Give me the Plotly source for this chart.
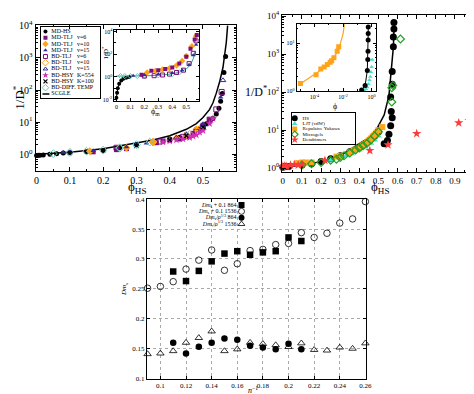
import plotly.graph_objects as go

W, H = 474, 394
FONT = "Liberation Serif"

def dx(a, b):
    return [a / W, b / W]

def dy(top, bot):
    return [1 - bot / H, 1 - top / H]

# ---------------- DATA: top-left main (1/D* vs phi_HS) ----------------
MD_HS_x = [0.0, 0.005, 0.01, 0.02, 0.04, 0.06, 0.08, 0.1, 0.15, 0.2, 0.25, 0.3, 0.35, 0.4, 0.43, 0.45,
           0.48, 0.5, 0.51, 0.52, 0.53, 0.54, 0.548, 0.553, 0.558, 0.563, 0.568]
MD_HS_y = [0.92, 0.93, 0.93, 0.95, 1.0, 1.05, 1.1, 1.15, 1.2, 1.32, 1.6, 2.0, 2.4, 3.0, 3.4, 4.2,
           6.0, 7.5, 9.0, 11.0, 13.0, 18.0, 27.0, 45.0, 78.0, 350.0, 1100.0]
MD_TLJ6_x = [0.17, 0.24, 0.27, 0.36, 0.38, 0.4, 0.43, 0.45, 0.47, 0.49, 0.5, 0.52]
MD_TLJ6_y = [1.2, 1.4, 1.5, 2.3, 2.6, 2.8, 3.0, 3.5, 4.5, 6.0, 8.0, 12.0]
MD_TLJ10_x = [0.16, 0.27, 0.35, 0.42, 0.45, 0.48]
MD_TLJ10_y = [1.25, 1.6, 2.4, 3.2, 4.0, 6.0]
MD_TLJ15_x = [0.08, 0.17, 0.27, 0.33, 0.4, 0.45, 0.5, 0.553]
MD_TLJ15_y = [1.15, 1.3, 1.7, 2.2, 3.0, 4.2, 9.0, 60.0]
BD_TLJ6_x = [0.24, 0.37, 0.44, 0.48, 0.5, 0.52, 0.54, 0.556]
BD_TLJ6_y = [1.6, 2.5, 3.5, 5.0, 7.0, 12.0, 25.0, 87.0]
BD_TLJ10_x = [0.25, 0.35, 0.46, 0.49]
BD_TLJ10_y = [1.55, 2.4, 4.2, 6.0]
BD_TLJ15_x = [0.1, 0.3, 0.42, 0.5, 0.56]
BD_TLJ15_y = [1.15, 2.0, 3.3, 8.0, 200.0]
BD_HSY554_x = [0.38, 0.4, 0.42, 0.44, 0.46, 0.47, 0.48, 0.49, 0.5, 0.52, 0.53]
BD_HSY554_y = [2.4, 2.6, 2.8, 3.0, 3.3, 3.7, 4.0, 4.8, 5.5, 9.0, 13.0]
BD_HSY100_x = [0.1, 0.2, 0.3, 0.4, 0.45, 0.5]
BD_HSY100_y = [1.1, 1.3, 1.8, 2.8, 3.8, 7.0]
BD_DIFF_x = [0.05, 0.1, 0.15, 0.2, 0.25, 0.3, 0.34]
BD_DIFF_y = [1.05, 1.15, 1.25, 1.35, 1.6, 2.0, 2.4]
SCGLE_x = [0.0, 0.1, 0.2, 0.3, 0.35, 0.4, 0.45, 0.48, 0.5, 0.52, 0.53, 0.54, 0.55, 0.56, 0.565, 0.57, 0.574]
SCGLE_y = [1.0, 1.17, 1.5, 2.2, 2.8, 3.8, 6.0, 9.0, 14.0, 25.0, 40.0, 80.0, 180.0, 500.0, 1100.0, 3000.0, 10000.0]

# ---------------- DATA: top-left inset (1/D* vs phi_m) ----------------
IN1_black_x = [0.0, 0.005, 0.01, 0.02, 0.035, 0.05, 0.07, 0.09]
IN1_black_y = [0.015, 0.04, 0.1, 0.25, 0.5, 0.7, 0.85, 1.0]
IN1_purple_x = [0.18, 0.25, 0.3, 0.35, 0.4, 0.45, 0.5, 0.53, 0.56, 0.575]
IN1_purple_y = [1.6, 3.5, 4.0, 5.0, 7.0, 15.0, 60.0, 300.0, 2000.0, 5000.0]
IN1_orange_x = [0.22, 0.28, 0.33, 0.38, 0.43, 0.47, 0.5, 0.54, 0.57]
IN1_orange_y = [2.5, 3.5, 4.5, 6.0, 10.0, 25.0, 70.0, 500.0, 4000.0]
IN1_popen_x = [0.2, 0.27, 0.33, 0.38, 0.43, 0.48, 0.52, 0.55, 0.57]
IN1_popen_y = [1.2, 1.3, 1.5, 1.8, 2.5, 4.0, 15.0, 120.0, 1500.0]
IN1_cyan_x = [0.03, 0.06, 0.1, 0.15, 0.2, 0.3, 0.4, 0.45]
IN1_cyan_y = [1.2, 1.2, 1.2, 1.2, 1.25, 1.4, 1.8, 2.5]
IN1_blue_x = [0.12, 0.2, 0.3, 0.4, 0.47, 0.52, 0.55, 0.57]
IN1_blue_y = [1.3, 1.5, 1.7, 2.2, 4.0, 12.0, 80.0, 700.0]
IN1_line_x = [0.0, 0.1, 0.2, 0.3, 0.4, 0.45, 0.5, 0.53, 0.55, 0.565]
IN1_line_y = [1.2, 1.2, 1.25, 1.4, 1.9, 2.6, 5.0, 12.0, 40.0, 200.0]

# ---------------- DATA: top-right main ----------------
HS_x = [0.0, 0.01, 0.03, 0.1, 0.15, 0.2, 0.25, 0.3, 0.35, 0.4, 0.45, 0.48, 0.5, 0.53, 0.547, 0.555,
        0.564, 0.572, 0.567, 0.564, 0.572, 0.572, 0.578, 0.578, 0.581, 0.581]
HS_y = [1.05, 1.1, 1.1, 1.2, 1.3, 1.5, 1.75, 2.1, 2.7, 3.6, 5.2, 7.0, 9.0, 4.4, 5.3, 7.8,
        13.0, 21.0, 31.0, 74.0, 160.0, 350.0, 1550.0, 2800.0, 4600.0, 6800.0]
LJT_x = [0.25, 0.3, 0.33, 0.36, 0.4, 0.43, 0.46, 0.48, 0.5]
LJT_y = [1.6, 1.9, 2.1, 2.4, 3.0, 3.6, 4.5, 5.5, 7.0]
RY_x = [0.08, 0.1, 0.12, 0.15, 0.28, 0.3, 0.35, 0.37, 0.38, 0.4, 0.41, 0.42, 0.43, 0.44, 0.45,
        0.46, 0.47, 0.48, 0.49, 0.5, 0.52]
RY_y = [1.35, 1.4, 1.4, 1.4, 2.0, 2.1, 2.6, 2.9, 3.1, 3.4, 3.7, 4.0, 4.4, 4.8, 5.3,
        6.0, 6.8, 7.5, 8.5, 10.0, 12.0]
MG_x = [0.1, 0.15, 0.2, 0.25, 0.28, 0.3, 0.32, 0.35, 0.38, 0.4, 0.42, 0.44, 0.46, 0.48, 0.5,
        0.57, 0.57, 0.575, 0.615]
MG_y = [1.2, 1.3, 1.4, 1.6, 1.7, 1.9, 2.1, 2.5, 3.0, 3.4, 3.9, 4.5, 5.5, 7.0, 9.0,
        55.0, 130.0, 150.0, 2500.0]
DEN_x = [0.0, 0.01, 0.02, 0.04, 0.06, 0.08, 0.1, 0.22, 0.455, 0.55, 0.7, 0.92, 0.974]
DEN_y = [1.1, 1.15, 1.1, 1.2, 1.25, 1.2, 1.25, 1.6, 2.9, 4.1, 8.1, 15.5, 18.0]
TR_curve_x = [0.0, 0.1, 0.2, 0.305, 0.4, 0.452, 0.495, 0.53, 0.555, 0.567, 0.578, 0.583]
TR_curve_y = [1.0, 1.2, 1.48, 2.2, 4.4, 6.4, 11.6, 25.0, 82.0, 320.0, 1530.0, 7400.0]

# ---------------- DATA: top-right inset (log-log) ----------------
IN2_orange_x = [1.05e-5, 1.3e-4, 2.8e-4, 4.8e-4, 8e-4, 1.26e-3, 1.6e-3, 2.3e-3, 3.9e-3, 5e-3]
IN2_orange_y = [1.43, 2.2, 2.9, 3.2, 3.6, 4.0, 4.3, 5.0, 6.8, 8.5]
IN2_oline_x = [1e-5, 3.2e-5, 1e-4, 3.2e-4, 1e-3, 3.2e-3, 6.3e-3, 1e-2, 1.26e-2]
IN2_oline_y = [1.41, 1.78, 2.14, 2.82, 3.8, 5.9, 9.5, 15.8, 25.0]
IN2_black_x = [0.2, 0.35, 0.5, 0.54, 0.56, 0.57, 0.575, 0.58]
IN2_black_y = [1.05, 1.3, 2.7, 4.6, 6.8, 11.7, 16.0, 22.0]
IN2_cyan_x = [0.3, 0.4, 0.5, 0.6, 0.7, 0.8, 0.9, 1.0, 1.1]
IN2_cyan_y = [1.05, 1.1, 1.2, 1.4, 1.7, 2.0, 2.5, 3.2, 4.5]

# ---------------- DATA: bottom panel ----------------
B_sq_x = [0.11, 0.12, 0.13, 0.14, 0.15, 0.16, 0.17, 0.18, 0.19, 0.20, 0.21]
B_sq_y = [0.279, 0.263, 0.280, 0.296, 0.309, 0.313, 0.307, 0.311, 0.313, 0.336, 0.330]
B_oc_x = [0.09, 0.10, 0.11, 0.12, 0.13, 0.14, 0.15, 0.16, 0.17, 0.18, 0.19, 0.20, 0.21, 0.22,
          0.23, 0.24, 0.25, 0.26]
B_oc_y = [0.251, 0.254, 0.262, 0.283, 0.298, 0.315, 0.281, 0.292, 0.314, 0.316, 0.324, 0.326,
          0.344, 0.336, 0.343, 0.360, 0.367, 0.396]
B_fc_x = [0.11, 0.12, 0.13, 0.14, 0.15, 0.16, 0.17, 0.18, 0.19, 0.20, 0.21]
B_fc_y = [0.160, 0.142, 0.153, 0.160, 0.167, 0.165, 0.155, 0.152, 0.149, 0.158, 0.149]
B_tr_x = [0.09, 0.10, 0.11, 0.12, 0.13, 0.14, 0.15, 0.16, 0.17, 0.18, 0.19, 0.20, 0.21, 0.22,
          0.23, 0.24, 0.25, 0.26]
B_tr_y = [0.141, 0.142, 0.146, 0.160, 0.168, 0.179, 0.146, 0.149, 0.160, 0.158, 0.156, 0.153,
          0.159, 0.148, 0.147, 0.152, 0.150, 0.159]

TL_names = ["MD-HS", "MD-TLJ", "MD-TLJ", "MD-TLJ", "BD-TLJ", "BD-TLJ", "BD-TLJ",
            "BD-HSY", "BD-HSY", "BD-DIFF. TEMP", "SCGLE"]
TL_params = ["", "v=6", "v=10", "v=15", "v=6", "v=10", "v=15", "K=554", "K=100", "", ""]
TR_names = ["HS", "LJT (vdW)", "Repulsive Yukawa", "Microgels", "Dendrimers"]
B_names = ["<i>Dm</i><sub>s</sub> + 0.1 864", "<i>Dm</i><sub>s</sub> + 0.1 1536",
           "<i>Dm</i><sub>s</sub>/<i>ρ</i><sup>1/3</sup> 864",
           "<i>Dm</i><sub>s</sub>/<i>ρ</i><sup>1/3</sup> 1536"]

# ---------------- styles ----------------
PURPLE = "#7b0f7b"
ORANGE = "#ffa31a"
BLUE = "#2f2f9c"
MAGENTA = "#d02fb4"
CYAN = "#66ccbb"
TURQ = "#3fe0cc"
GREEN = "#22a022"
RED = "#ff3a3a"

TL_styles = [
    dict(symbol="circle", color="black", size=5),
    dict(symbol="square", color=PURPLE, size=5),
    dict(symbol="diamond", color=ORANGE, size=6),
    dict(symbol="triangle-up", color=BLUE, size=5),
    dict(symbol="square-open", color=PURPLE, size=5, line=dict(width=1, color=PURPLE)),
    dict(symbol="diamond-open", color=ORANGE, size=6, line=dict(width=1, color=ORANGE)),
    dict(symbol="triangle-up-open", color=BLUE, size=5, line=dict(width=1, color=BLUE)),
    dict(symbol="star", color=MAGENTA, size=6),
    dict(symbol="x-thin-open", color="black", size=4, line=dict(width=1.2, color="black")),
    dict(symbol="diamond-open", color=CYAN, size=6, line=dict(width=1, color=CYAN)),
]
TL_data = [(MD_HS_x, MD_HS_y), (MD_TLJ6_x, MD_TLJ6_y), (MD_TLJ10_x, MD_TLJ10_y),
           (MD_TLJ15_x, MD_TLJ15_y), (BD_TLJ6_x, BD_TLJ6_y), (BD_TLJ10_x, BD_TLJ10_y),
           (BD_TLJ15_x, BD_TLJ15_y), (BD_HSY554_x, BD_HSY554_y), (BD_HSY100_x, BD_HSY100_y),
           (BD_DIFF_x, BD_DIFF_y)]

TR_styles = [
    dict(symbol="circle", color="black", size=7),
    dict(symbol="triangle-up", color=TURQ, size=6),
    dict(symbol="square", color=ORANGE, size=6),
    dict(symbol="diamond-open", color=GREEN, size=6, line=dict(width=1.2, color=GREEN)),
    dict(symbol="star", color=RED, size=7),
]
TR_data = [(HS_x, HS_y), (LJT_x, LJT_y), (RY_x, RY_y), (MG_x, MG_y), (DEN_x, DEN_y)]

B_styles = [
    dict(symbol="square", color="black", size=6.5),
    dict(symbol="circle-open", color="black", size=6.5, line=dict(width=0.8, color="black")),
    dict(symbol="circle", color="black", size=6.5),
    dict(symbol="triangle-up-open", color="black", size=6.5, line=dict(width=0.8, color="black")),
]
B_data = [(B_sq_x, B_sq_y), (B_oc_x, B_oc_y), (B_fc_x, B_fc_y), (B_tr_x, B_tr_y)]

fig = go.Figure()

def ax(n):
    return ("x" if n == 1 else f"x{n}"), ("y" if n == 1 else f"y{n}")

def add(n, x, y, **kw):
    xa, ya = ax(n)
    fig.add_trace(go.Scatter(x=x, y=y, xaxis=xa, yaxis=ya, showlegend=False, **kw))

# top-left main
add(1, SCGLE_x, SCGLE_y, mode="lines", line=dict(color="black", width=1.5))
for (xs, ys), st in zip(TL_data, TL_styles):
    add(1, xs, ys, mode="markers", marker=st, cliponaxis=False)

# top-left inset
add(2, IN1_line_x, IN1_line_y, mode="lines", line=dict(color="#3a9a9a", width=1))
add(2, IN1_black_x, IN1_black_y, mode="lines", line=dict(color="black", width=1))
add(2, IN1_black_x, IN1_black_y, mode="markers", marker=dict(symbol="circle", color="black", size=4))
add(2, IN1_cyan_x, IN1_cyan_y, mode="markers", marker=TL_styles[9] | dict(size=4))
add(2, IN1_popen_x, IN1_popen_y, mode="markers", marker=TL_styles[4] | dict(size=4))
add(2, IN1_blue_x, IN1_blue_y, mode="markers", marker=TL_styles[3] | dict(size=4))
add(2, IN1_orange_x, IN1_orange_y, mode="markers", marker=TL_styles[2] | dict(size=5))
add(2, IN1_purple_x, IN1_purple_y, mode="markers", marker=TL_styles[1] | dict(size=4))

# top-right main
add(3, TR_curve_x, TR_curve_y, mode="lines", line=dict(color="black", width=1.5))
for (xs, ys), st in zip(TR_data, TR_styles):
    add(3, xs, ys, mode="markers", marker=st, cliponaxis=False)

# top-right inset
add(4, IN2_oline_x, IN2_oline_y, mode="lines", line=dict(color=ORANGE, width=1.2))
add(4, IN2_orange_x, IN2_orange_y, mode="markers", marker=dict(symbol="square", color=ORANGE, size=5))
add(4, IN2_cyan_x, IN2_cyan_y, mode="markers", marker=dict(symbol="triangle-up", color=TURQ, size=4))
add(4, IN2_black_x, IN2_black_y, mode="lines", line=dict(color="black", width=1))
add(4, IN2_black_x, IN2_black_y, mode="markers", marker=dict(symbol="circle", color="black", size=5))

# bottom
for (xs, ys), st in zip(B_data, B_styles):
    add(5, xs, ys, mode="markers", marker=st, cliponaxis=False)

# legends (index-based rows)
n_tl = len(TL_names)
tl_rows = [5 + 6.4 * i for i in range(n_tl)]
for i, st in enumerate(TL_styles):
    add(6, [5], [tl_rows[i]], mode="markers", marker=st | dict(size=max(st["size"] - 1, 4)))
add(6, [2, 9], [tl_rows[-1]] * 2, mode="lines", line=dict(color="black", width=1.5))
add(6, [11] * n_tl, tl_rows, mode="text", text=TL_names, textposition="middle right",
    textfont=dict(family=FONT, size=6, color="black"))
tl_pidx = [i for i, p in enumerate(TL_params) if p]
add(6, [37] * len(tl_pidx), [tl_rows[i] for i in tl_pidx], mode="text",
    text=[TL_params[i] for i in tl_pidx], textposition="middle right",
    textfont=dict(family=FONT, size=6, color="black"))

tr_rows = [5 + 5.5 * i for i in range(len(TR_names))]
for i, st in enumerate(TR_styles):
    add(7, [3], [tr_rows[i]], mode="markers", marker=st | dict(size=st["size"] - 1))
add(7, [11] * len(TR_names), tr_rows, mode="text", text=TR_names, textposition="middle right",
    textfont=dict(family=FONT, size=5, color="black"))

b_rows = [4 + 6.5 * i for i in range(len(B_names))]
for i, st in enumerate(B_styles):
    add(8, [96], [b_rows[i]], mode="markers", marker=st | dict(size=6))
add(8, [91] * len(B_names), b_rows, mode="text", text=B_names, textposition="middle left",
    textfont=dict(family=FONT, size=6, color="black"))

# ---------------- axes ----------------
def pow_text(vals):
    out = []
    for v in vals:
        e = 0
        t = v
        while t >= 10:
            t /= 10
            e += 1
        while t < 1:
            t *= 10
            e -= 1
        out.append(f"10<sup>{e}</sup>")
    return out

def log_minor(lo, hi):
    res = []
    d = lo
    while d < hi:
        res += [k * 10 ** d for k in range(2, 10)]
        d += 1
    return res

base = dict(showgrid=False, zeroline=False, showline=True, linecolor="black", linewidth=1,
            mirror="ticks", ticks="inside", tickcolor="black", tickwidth=1)

dec4 = [1, 10, 100, 1000, 10000]
lay = dict(
    xaxis=base | dict(domain=dx(27, 230), range=[-0.003, 0.598], anchor="y", ticklen=4,
                      tickvals=[0, 0.1, 0.2, 0.3, 0.4, 0.5], ticktext=["0", "0.1", "0.2", "0.3", "0.4", "0.5"],
                      tickfont=dict(family=FONT, size=10),
                      minor=dict(ticks="inside", ticklen=2, tickvals=[0.05, 0.15, 0.25, 0.35, 0.45, 0.55])),
    yaxis=base | dict(domain=dy(11, 161), type="log", range=[-0.515, 4.03], anchor="x", ticklen=4,
                      tickvals=dec4, ticktext=pow_text(dec4), tickfont=dict(family=FONT, size=10),
                      minor=dict(ticks="inside", ticklen=2, tickvals=log_minor(-1, 4))),
    xaxis2=base | dict(domain=dx(107, 193), range=[-0.014, 0.592], anchor="y2", ticklen=3,
                       tickvals=[0, 0.1, 0.2, 0.3, 0.4, 0.5], ticktext=["0", "0.1", "0.2", "0.3", "0.4", "0.5"],
                       tickfont=dict(family=FONT, size=6)),
    yaxis2=base | dict(domain=dy(16, 89), type="log", range=[-2.09, 4.17], anchor="x2", ticklen=3,
                       tickvals=[0.01, 1, 100, 10000], ticktext=pow_text([0.01, 1, 100, 10000]),
                       tickfont=dict(family=FONT, size=6),
                       minor=dict(ticks="inside", ticklen=1.5, tickvals=[0.1, 10, 1000])),
    xaxis3=base | dict(domain=dx(277, 472), range=[-0.005, 1.0], anchor="y3", ticklen=4,
                       tickvals=[0, 0.1, 0.2, 0.3, 0.4, 0.5, 0.6, 0.7, 0.8, 0.9, 1.0],
                       ticktext=["0", "0.1", "0.2", "0.3", "0.4", "0.5", "0.6", "0.7", "0.8", "0.9", "1"],
                       tickfont=dict(family=FONT, size=9),
                       minor=dict(ticks="inside", ticklen=2, dtick=0.05)),
    yaxis3=base | dict(domain=dy(1, 162), type="log", range=[-0.1, 4.03], anchor="x3", ticklen=4,
                       tickvals=dec4, ticktext=pow_text(dec4), tickfont=dict(family=FONT, size=9),
                       minor=dict(ticks="inside", ticklen=2, tickvals=log_minor(0, 4))),
    xaxis4=base | dict(domain=dx(292, 373), type="log", range=[-5.24, 0.34], anchor="y4", ticklen=3,
                       tickvals=[1e-4, 1e-2, 1], ticktext=pow_text([1e-4, 1e-2, 1]),
                       tickfont=dict(family=FONT, size=6),
                       minor=dict(ticks="inside", ticklen=1.5, tickvals=[1e-5, 1e-3, 1e-1])),
    yaxis4=base | dict(domain=dy(10, 79), type="log", range=[0, 1.41], anchor="x4", ticklen=3,
                       tickvals=[1, 10], ticktext=pow_text([1, 10]), tickfont=dict(family=FONT, size=6),
                       minor=dict(ticks="inside", ticklen=1.5, tickvals=log_minor(0, 2))),
    xaxis5=dict(domain=dx(140, 362), range=[0.0895, 0.2602], anchor="y5", showline=True, mirror="ticks",
                linecolor="black", linewidth=1, ticks="inside", ticklen=3, tickcolor="black",
                zeroline=False, showgrid=True, gridcolor="#aaaaaa", griddash="dot", gridwidth=0.6,
                tickvals=[0.1, 0.12, 0.14, 0.16, 0.18, 0.2, 0.22, 0.24, 0.26],
                ticktext=["0.1", "0.12", "0.14", "0.16", "0.18", "0.2", "0.22", "0.24", "0.26"],
                tickfont=dict(family=FONT, size=7)),
    yaxis5=dict(domain=dy(190, 374), range=[0.1, 0.4], anchor="x5", showline=True, mirror="ticks",
                linecolor="black", linewidth=1, ticks="inside", ticklen=3, tickcolor="black",
                zeroline=False, showgrid=True, gridcolor="#aaaaaa", griddash="dot", gridwidth=0.6,
                tickvals=[0.1, 0.15, 0.2, 0.25, 0.3, 0.35, 0.4],
                ticktext=["0.1", "0.15", "0.2", "0.25", "0.3", "0.35", "0.4"],
                tickfont=dict(family=FONT, size=7)),
)

box = dict(showgrid=False, zeroline=False, showline=True, mirror=True, linecolor="black",
           linewidth=1, showticklabels=False, ticks="", fixedrange=True)
lay["xaxis6"] = box | dict(domain=dx(32, 92), range=[0, 60], anchor="y6")
lay["yaxis6"] = box | dict(domain=dy(13, 86), range=[73, 0], anchor="x6")
lay["xaxis7"] = box | dict(domain=dx(287, 351), range=[0, 64], anchor="y7")
lay["yaxis7"] = box | dict(domain=dy(102, 133), range=[31, 0], anchor="x7")
lay["xaxis8"] = dict(box, showline=False, domain=dx(140, 240), range=[0, 100], anchor="y8")
lay["yaxis8"] = dict(box, showline=False, domain=dy(192, 218), range=[26, 0], anchor="x8")

def ann(px, py, text, size, angle=0):
    return dict(x=px / W, y=1 - py / H, xref="paper", yref="paper", text=text, showarrow=False,
                textangle=angle, font=dict(family=FONT, size=size, color="black"),
                xanchor="center", yanchor="middle")

annotations = [
    ann(10, 85, "1/D<sup>*</sup>", 13, -90),
    ann(130, 178, "ϕ<sub>HS</sub>", 13),
    ann(98, 40, "1/D<sup>*</sup>", 7, -90),
    ann(149, 101, "ϕ<sub>m</sub>", 8),
    ann(251, 80, "1/D<sup>*</sup>", 12),
    ann(377, 178, "ϕ<sub>HS</sub>", 13),
    ann(331, 95, "ϕ", 8),
    ann(117, 283, "<i>Dm</i><sub>s</sub>", 7, -90),
    ann(248, 386, "<i>n</i><sup>−1</sup>", 8),
]

fig.update_layout(
    width=W, height=H, autosize=False,
    margin=dict(l=0, r=0, t=0, b=0, pad=0),
    paper_bgcolor="white", plot_bgcolor="rgba(0,0,0,0)",
    showlegend=False,
    annotations=annotations,
    font=dict(family=FONT, color="black"),
    **lay,
)

fig.write_html("out.html")
